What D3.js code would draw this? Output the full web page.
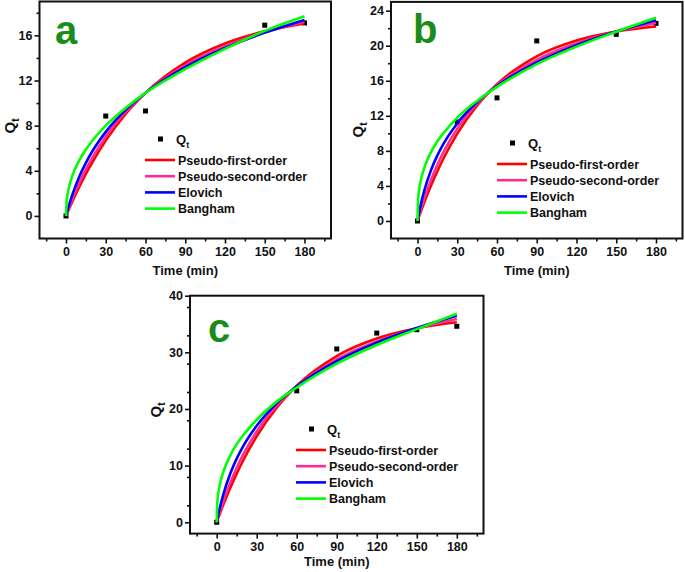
<!DOCTYPE html>
<html>
<head>
<meta charset="utf-8">
<script src="https://cdn.jsdelivr.net/npm/d3@7"></script>
<style>
  html, body { margin: 0; padding: 0; background: #fff; }
  svg { display: block; font-family: "Liberation Sans", Arial, sans-serif; }
  .tick text { font-weight: bold; font-size: 12.5px; fill: #111; }
  .tick line { stroke: #111; stroke-width: 1.6; }
</style>
</head>
<body>
<svg id="chart" width="685" height="572"></svg>
<script>
const curveTimes = [0, 0.5, 2, 5, 10, 15, 20, 30, 45, 60, 90, 120, 150, 180];
const seriesNames = ['Pseudo-first-order', 'Pseudo-second-order', 'Elovich', 'Bangham'];
const seriesColors = ['#ff0000', '#ff2d8f', '#0000ff', '#00ff00'];

// panel a
const obsTimesA = [0, 30, 60, 90, 150, 180];
const qtA = [0, 8.85, 9.3, 13.3, 16.9, 17.1];
const pfoA = [0, 0.14, 0.55, 1.33, 2.57, 3.72, 4.78, 6.67, 9.03, 10.9, 13.58, 15.28, 16.36, 17.05];
const psoA = [0, 0.16, 0.64, 1.55, 2.91, 4.12, 5.19, 7.04, 9.21, 10.9, 13.34, 15.03, 16.26, 17.2];
const elovichA = [0, 0.22, 0.85, 1.95, 3.47, 4.70, 5.75, 7.45, 9.40, 10.9, 13.18, 14.88, 16.24, 17.37];
const banghamA = [0, 1.31, 2.41, 3.62, 4.92, 5.89, 6.69, 8.0, 9.56, 10.9, 13.0, 14.8, 16.4, 17.7];
const yTicksA = [0, 4, 8, 12, 16];

// panel b
const obsTimesB = [0, 30, 60, 90, 150, 180];
const qtB = [0, 11.3, 14.05, 20.55, 21.3, 22.55];
const pfoB = [0, 0.22, 0.85, 2.08, 3.97, 5.68, 7.24, 9.96, 13.18, 15.6, 18.79, 20.59, 21.62, 22.2];
const psoB = [0, 0.27, 1.06, 2.51, 4.62, 6.42, 7.98, 10.54, 13.4, 15.5, 18.39, 20.28, 21.61, 22.6];
const elovichB = [0, 0.42, 1.55, 3.40, 5.72, 7.48, 8.91, 11.13, 13.57, 15.4, 18.09, 20.07, 21.62, 22.9];
const banghamB = [0, 2.52, 4.25, 6.0, 7.8, 9.1, 10.1, 11.8, 13.7, 15.3, 17.9, 19.9, 21.6, 23.2];
const yTicksB = [0, 4, 8, 12, 16, 20, 24];

// panel c
const obsTimesC = [0, 60, 90, 120, 150, 180];
const qtC = [0, 23.2, 30.6, 33.4, 34.0, 34.6];
const pfoC = [0, 0.32, 1.28, 3.12, 5.98, 8.59, 10.99, 15.18, 20.23, 24.1, 29.35, 32.43, 34.24, 35.3];
const psoC = [0, 0.40, 1.56, 3.71, 6.88, 9.63, 12.03, 16.03, 20.59, 24.0, 28.76, 31.93, 34.2, 35.9];
const elovichC = [0, 0.59, 2.22, 4.94, 8.48, 11.23, 13.48, 17.04, 21.0, 24.0, 28.44, 31.71, 34.3, 36.45];
const banghamC = [0, 3.58, 6.2, 8.9, 11.7, 13.8, 15.4, 18.1, 21.3, 23.8, 28.0, 31.3, 34.1, 36.8];
const yTicksC = [0, 10, 20, 30, 40];

const xTicks = [0, 30, 60, 90, 120, 150, 180];
const xMinor = [-15, 15, 45, 75, 105, 135, 165, 195];

const panels = [
    {
        letter: 'a', obsTimes: obsTimesA, qt: qtA, curves: [pfoA, psoA, elovichA, banghamA],
        yDomain: [-2, 19], yTicks: yTicksA, yMinorStep: 2,
        frame: { left: 39.5, right: 331, top: 1.5, bottom: 238.5 },
        letterPos: [55, 44], legend: { x: 145, y: 139 },
        yLabel: [14.5, 126], timeY: 275
    },
    {
        letter: 'b', obsTimes: obsTimesB, qt: qtB, curves: [pfoB, psoB, elovichB, banghamB],
        yDomain: [-2, 25], yTicks: yTicksB, yMinorStep: 2,
        frame: { left: 391, right: 682.5, top: 1.9, bottom: 238.5 },
        letterPos: [413, 43], legend: { x: 497, y: 143 },
        yLabel: [362.5, 130], timeY: 275
    },
    {
        letter: 'c', obsTimes: obsTimesC, qt: qtC, curves: [pfoC, psoC, elovichC, banghamC],
        yDomain: [-2, 40], yTicks: yTicksC, yMinorStep: 5,
        frame: { left: 190, right: 483.5, top: 295.7, bottom: 533.6 },
        letterPos: [208, 342], legend: { x: 296, y: 429 },
        yLabel: [161, 410], timeY: 566
    }
];

const svg = d3.select('#chart');

function drawPanel(p) {
    const f = p.frame;
    const x = d3.scaleLinear().domain([-20, 200]).range([f.left, f.right]);
    const y = d3.scaleLinear().domain(p.yDomain).range([f.bottom, f.top]);
    const g = svg.append('g');

    // axes (ticks outward)
    const xAxis = g.append('g').attr('transform', `translate(0,${f.bottom})`)
        .call(d3.axisBottom(x).tickValues(xTicks).tickSize(5).tickPadding(4).tickFormat(d3.format('d')));
    xAxis.select('.domain').remove();
    const xAxisMinor = g.append('g').attr('transform', `translate(0,${f.bottom})`)
        .call(d3.axisBottom(x).tickValues(xMinor).tickSize(3).tickFormat(''));
    xAxisMinor.select('.domain').remove();

    const yMinor = d3.range(p.yDomain[0], p.yDomain[1] + 0.01, p.yMinorStep)
        .filter(v => v > p.yDomain[0] && !p.yTicks.includes(v));
    const yAxis = g.append('g').attr('transform', `translate(${f.left},0)`)
        .call(d3.axisLeft(y).tickValues(p.yTicks).tickSize(5).tickPadding(2).tickFormat(d3.format('d')));
    yAxis.select('.domain').remove();
    const yAxisMinor = g.append('g').attr('transform', `translate(${f.left},0)`)
        .call(d3.axisLeft(y).tickValues(yMinor).tickSize(3).tickFormat(''));
    yAxisMinor.select('.domain').remove();

    // data points
    g.append('g').selectAll('rect')
        .data(p.obsTimes.map((t, i) => [t, p.qt[i]]))
        .join('rect')
        .attr('x', d => x(d[0]) - 2.5)
        .attr('y', d => y(d[1]) - 2.5)
        .attr('width', 5).attr('height', 5)
        .attr('fill', '#000');

    // fitted curves
    const line = d3.line()
        .x(d => x(d[0]))
        .y(d => y(d[1]))
        .curve(d3.curveMonotoneX);
    p.curves.forEach((vals, i) => {
        g.append('path')
            .attr('d', line(curveTimes.map((t, j) => [t, vals[j]])))
            .attr('fill', 'none')
            .attr('stroke', seriesColors[i])
            .attr('stroke-width', 2.6);
    });

    // frame
    g.append('rect')
        .attr('x', f.left).attr('y', f.top)
        .attr('width', f.right - f.left).attr('height', f.bottom - f.top)
        .attr('fill', 'none').attr('stroke', '#111').attr('stroke-width', 2);

    // panel letter
    g.append('text')
        .attr('x', p.letterPos[0]).attr('y', p.letterPos[1])
        .attr('fill', '#1a8c1a').attr('font-weight', 'bold').attr('font-size', 40)
        .text(p.letter);

    // legend
    const lg = g.append('g').attr('transform', `translate(${p.legend.x},${p.legend.y})`);
    lg.append('rect').attr('x', 13).attr('y', -2.5).attr('width', 5).attr('height', 5).attr('fill', '#000');
    const qt = lg.append('text').attr('x', 31).attr('y', 5)
        .attr('font-weight', 'bold').attr('font-size', 13).attr('fill', '#111');
    qt.append('tspan').text('Q');
    qt.append('tspan').attr('font-size', 9).attr('dy', 4).text('t');
    seriesNames.forEach((name, i) => {
        const yy = 21 + i * 16.2;
        lg.append('line').attr('x1', 0).attr('x2', 30).attr('y1', yy).attr('y2', yy)
            .attr('stroke', seriesColors[i]).attr('stroke-width', 2.6);
        lg.append('text').attr('x', 33).attr('y', yy + 4.5)
            .attr('font-weight', 'bold').attr('font-size', 12.5).attr('fill', '#111')
            .text(name);
    });

    // axis titles
    g.append('text')
        .attr('x', (x(0) + x(180)) / 2).attr('y', p.timeY)
        .attr('text-anchor', 'middle').attr('font-weight', 'bold').attr('font-size', 13)
        .attr('fill', '#111').text('Time (min)');
    const yl = g.append('text')
        .attr('transform', `translate(${p.yLabel[0]},${p.yLabel[1]}) rotate(-90)`)
        .attr('text-anchor', 'middle').attr('font-weight', 'bold').attr('font-size', 15)
        .attr('fill', '#111');
    yl.append('tspan').text('Q');
    yl.append('tspan').attr('font-size', 10).attr('dy', 4).text('t');
}

panels.forEach(drawPanel);
</script>
</body>
</html>
